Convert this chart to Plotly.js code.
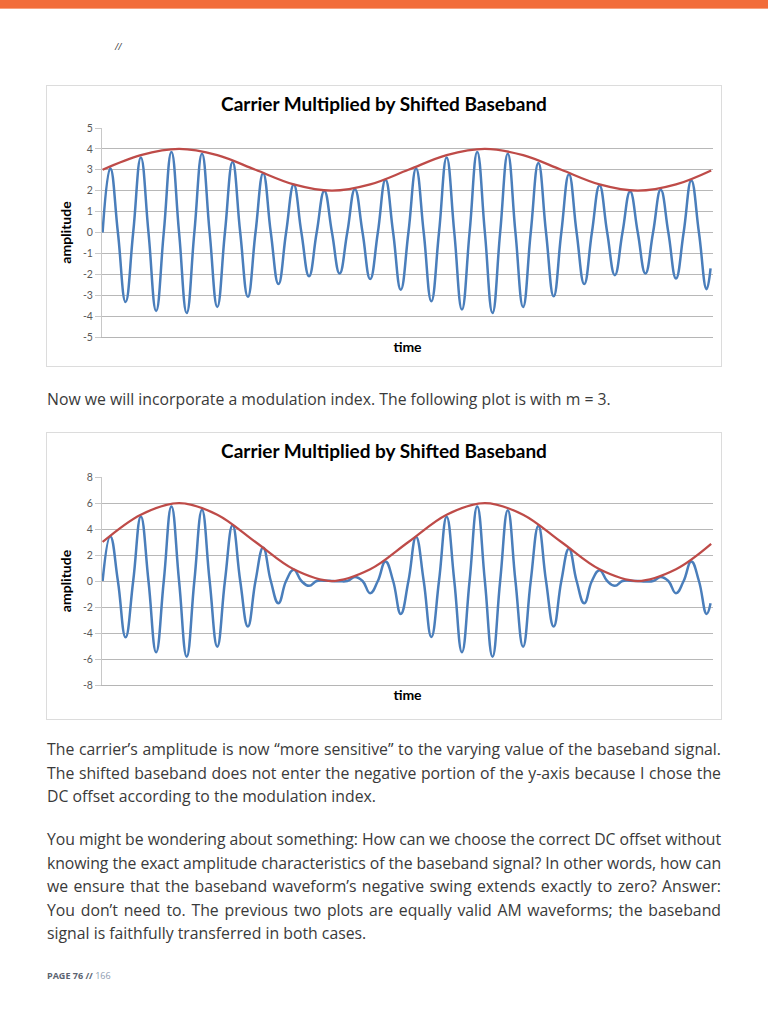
<!DOCTYPE html>
<html>
<head>
<meta charset="utf-8">
<script src="https://cdn.plot.ly/plotly-3.0.1.min.js"></script>
<style>
  html, body { margin:0; padding:0; background:#fff; }
  body { width:768px; height:1024px; position:relative; overflow:hidden; font-family:"Open Sans", sans-serif; color:#3a3a3a; }
  #topbar { position:absolute; left:0; top:0; width:768px; height:8px; background:#F26D3A; border-bottom:1px solid #F7A27E; }
  .chartbox { position:absolute; border:1px solid #dcdcdc; box-sizing:border-box; }
  .txt { position:absolute; left:47px; width:674px; font-size:15.8px; line-height:23.5px; color:#3a3a3a; }
  .txt .j { display:block; text-align:justify; text-align-last:justify; white-space:nowrap; }
  .txt .l { display:block; text-align:left; white-space:nowrap; }
  #slashes { position:absolute; left:115px; top:40px; font-size:9px; color:#333; font-style:italic; }
  #footer { position:absolute; left:47px; top:970px; font-size:9px; line-height:12px; }
  #footer b { color:#5b6370; font-weight:700; }
  #footer span { color:#8d9bb0; }
</style>
</head>
<body>
<div id="topbar"></div>
<div id="slashes">//</div>
<div id="chart1" class="chartbox" style="left:46px; top:85px; width:676px; height:282px;"></div>
<div class="txt" style="top:388px;"><span class="l">Now we will incorporate a modulation index. The following plot is with m = 3.</span></div>
<div id="chart2" class="chartbox" style="left:46px; top:432px; width:676px; height:288px;"></div>
<div class="txt" style="top:738px;">
<span class="j">The carrier’s amplitude is now “more sensitive” to the varying value of the baseband signal.</span>
<span class="j">The shifted baseband does not enter the negative portion of the y-axis because I chose the</span>
<span class="l">DC offset according to the modulation index.</span>
</div>
<div class="txt" style="top:828px;">
<span class="j">You might be wondering about something: How can we choose the correct DC offset without</span>
<span class="j">knowing the exact amplitude characteristics of the baseband signal? In other words, how can</span>
<span class="j">we ensure that the baseband waveform’s negative swing extends exactly to zero? Answer:</span>
<span class="j">You don’t need to. The previous two plots are equally valid AM waveforms; the baseband</span>
<span class="l">signal is faithfully transferred in both cases.</span>
</div>
<div id="footer"><b>PAGE 76 //</b> <span>166</span></div>
<script>
// fit each justified line into the column width
document.querySelectorAll('.txt .j').forEach(function(s){
  let ls = 0;
  s.style.display = 'inline-block';
  s.style.textAlignLast = 'left';
  s.style.width = 'auto';
  while (s.getBoundingClientRect().width > 674 && ls > -1.5) {
    ls -= 0.05;
    s.style.letterSpacing = ls + 'px';
  }
  s.style.display = 'block';
  s.style.width = '674px';
  s.style.textAlignLast = 'justify';
});

// time samples (carrier periods)
const time = [0,0.25,0.5,0.75,1,1.25,1.5,1.75,2,2.25,2.5,2.75,3,3.25,3.5,3.75,4,4.25,4.5,4.75,
  5,5.25,5.5,5.75,6,6.25,6.5,6.75,7,7.25,7.5,7.75,8,8.25,8.5,8.75,9,9.25,9.5,9.75,
  10,10.25,10.5,10.75,11,11.25,11.5,11.75,12,12.25,12.5,12.75,13,13.25,13.5,13.75,14,14.25,14.5,14.75,
  15,15.25,15.5,15.75,16,16.25,16.5,16.75,17,17.25,17.5,17.75,18,18.25,18.5,18.75,19,19.25,19.5,19.75,19.88];

// chart 1: carrier multiplied by shifted baseband (m = 1)
const carrier1 = [0,3.08,0,-3.32,0,3.59,0,-3.75,0,3.85,0,-3.85,0,3.77,0,-3.56,0,3.37,0,-3.08,
  0,2.84,0,-2.47,0,2.28,0,-2.09,0,1.99,0,-1.96,0,2.07,0,-2.23,0,2.52,0,-2.74,
  0,3.06,0,-3.29,0,3.59,0,-3.69,0,3.85,0,-3.85,0,3.77,0,-3.56,0,3.32,0,-3.05,
  0,2.79,0,-2.47,0,2.25,0,-2.04,0,1.96,0,-1.96,0,2.04,0,-2.20,0,2.49,0,-2.71,-1.72];

// chart 2: m = 3
const carrier2 = [0,3.43,0,-4.33,0,4.97,0,-5.48,0,5.74,0,-5.82,0,5.48,0,-5.05,0,4.28,0,-3.50,
  0,2.56,0,-1.71,0,0.86,0,-0.37,0,0.02,0,-0.02,0,0.30,0,-0.94,0,1.50,0,-2.53,
  0,3.38,0,-4.30,0,4.95,0,-5.48,0,5.74,0,-5.82,0,5.45,0,-5.05,0,4.24,0,-3.50,
  0,2.48,0,-1.71,0,0.83,0,-0.37,0,0.02,0,-0.03,0,0.30,0,-0.94,0,1.50,0,-2.53,-1.71];

// shifted baseband envelopes
const timeEnv = [0,1.25,2.5,3.75,5,6.25,7.5,8.75,10,11.25,12.5,13.75,15,16.25,17.5,18.75,19.9];
const baseband1 = [3.0,3.7,4.0,3.7,3.0,2.3,2.0,2.3,3.0,3.7,4.0,3.7,3.0,2.3,2.0,2.3,2.97];
const baseband2 = [3.0,5.1,6.0,5.1,3.0,0.9,0.0,0.9,3.0,5.1,6.0,5.1,3.0,0.9,0.0,0.9,2.85];

const chartTitle = "Carrier Multiplied by Shifted Baseband";
const yTicks1 = [-5,-4,-3,-2,-1,0,1,2,3,4,5];
const yTicks2 = [-8,-6,-4,-2,0,2,4,6,8];

function draw(id, carrier, baseband, ticks, margin) {
  const el = document.getElementById(id);
  const W = parseInt(el.style.width) - 2, H = parseInt(el.style.height) - 2;
  const traces = [
    {x: time, y: carrier, type:'scatter', mode:'lines',
     line:{color:'#4A7EBB', width:2.5, shape:'spline', smoothing:1.3}},
    {x: timeEnv, y: baseband, type:'scatter', mode:'lines',
     line:{color:'#BE4B48', width:2.25, shape:'spline', smoothing:1.0}}
  ];
  const layout = {
    width: W, height: H,
    margin: margin,
    paper_bgcolor:'#fff', plot_bgcolor:'#fff',
    showlegend:false,
    title:{text: chartTitle, x:0.5, xanchor:'center', y: 1 - 18/H, yanchor:'middle', yref:'container',
           font:{family:'Lato, sans-serif', size:19, color:'#000', weight:700}},
    xaxis:{range:[-0.02, 19.96], showticklabels:false, showgrid:false, zeroline:false,
           showline:true, linecolor:'#b5b5b5', linewidth:1, ticks:'',
           title:{text:'<b>time</b>', standoff:5, font:{family:'Lato, sans-serif', size:14, color:'#000'}}},
    yaxis:{range:[ticks[0], ticks[ticks.length-1]], tickvals:ticks, ticktext:ticks.map(String),
           showgrid:true, gridcolor:'#b8b8b8', gridwidth:1, zeroline:false,
           showline:true, linecolor:'#c8c8c8', linewidth:1, ticks:'outside', ticklen:6, tickcolor:'#c8c8c8',
           tickfont:{family:'Lato, sans-serif', size:10.5, color:'#595959'},
           title:{text:'<b>amplitude</b>', standoff:8, font:{family:'Lato, sans-serif', size:14, color:'#000'}}}
  };
  Plotly.newPlot(id, traces, layout, {staticPlot:true, displayModeBar:false});
}
draw('chart1', carrier1, baseband1, yTicks1, {l:55, r:8, t:42, b:29});
draw('chart2', carrier2, baseband2, yTicks2, {l:55, r:8, t:44, b:34});
</script>
</body>
</html>
